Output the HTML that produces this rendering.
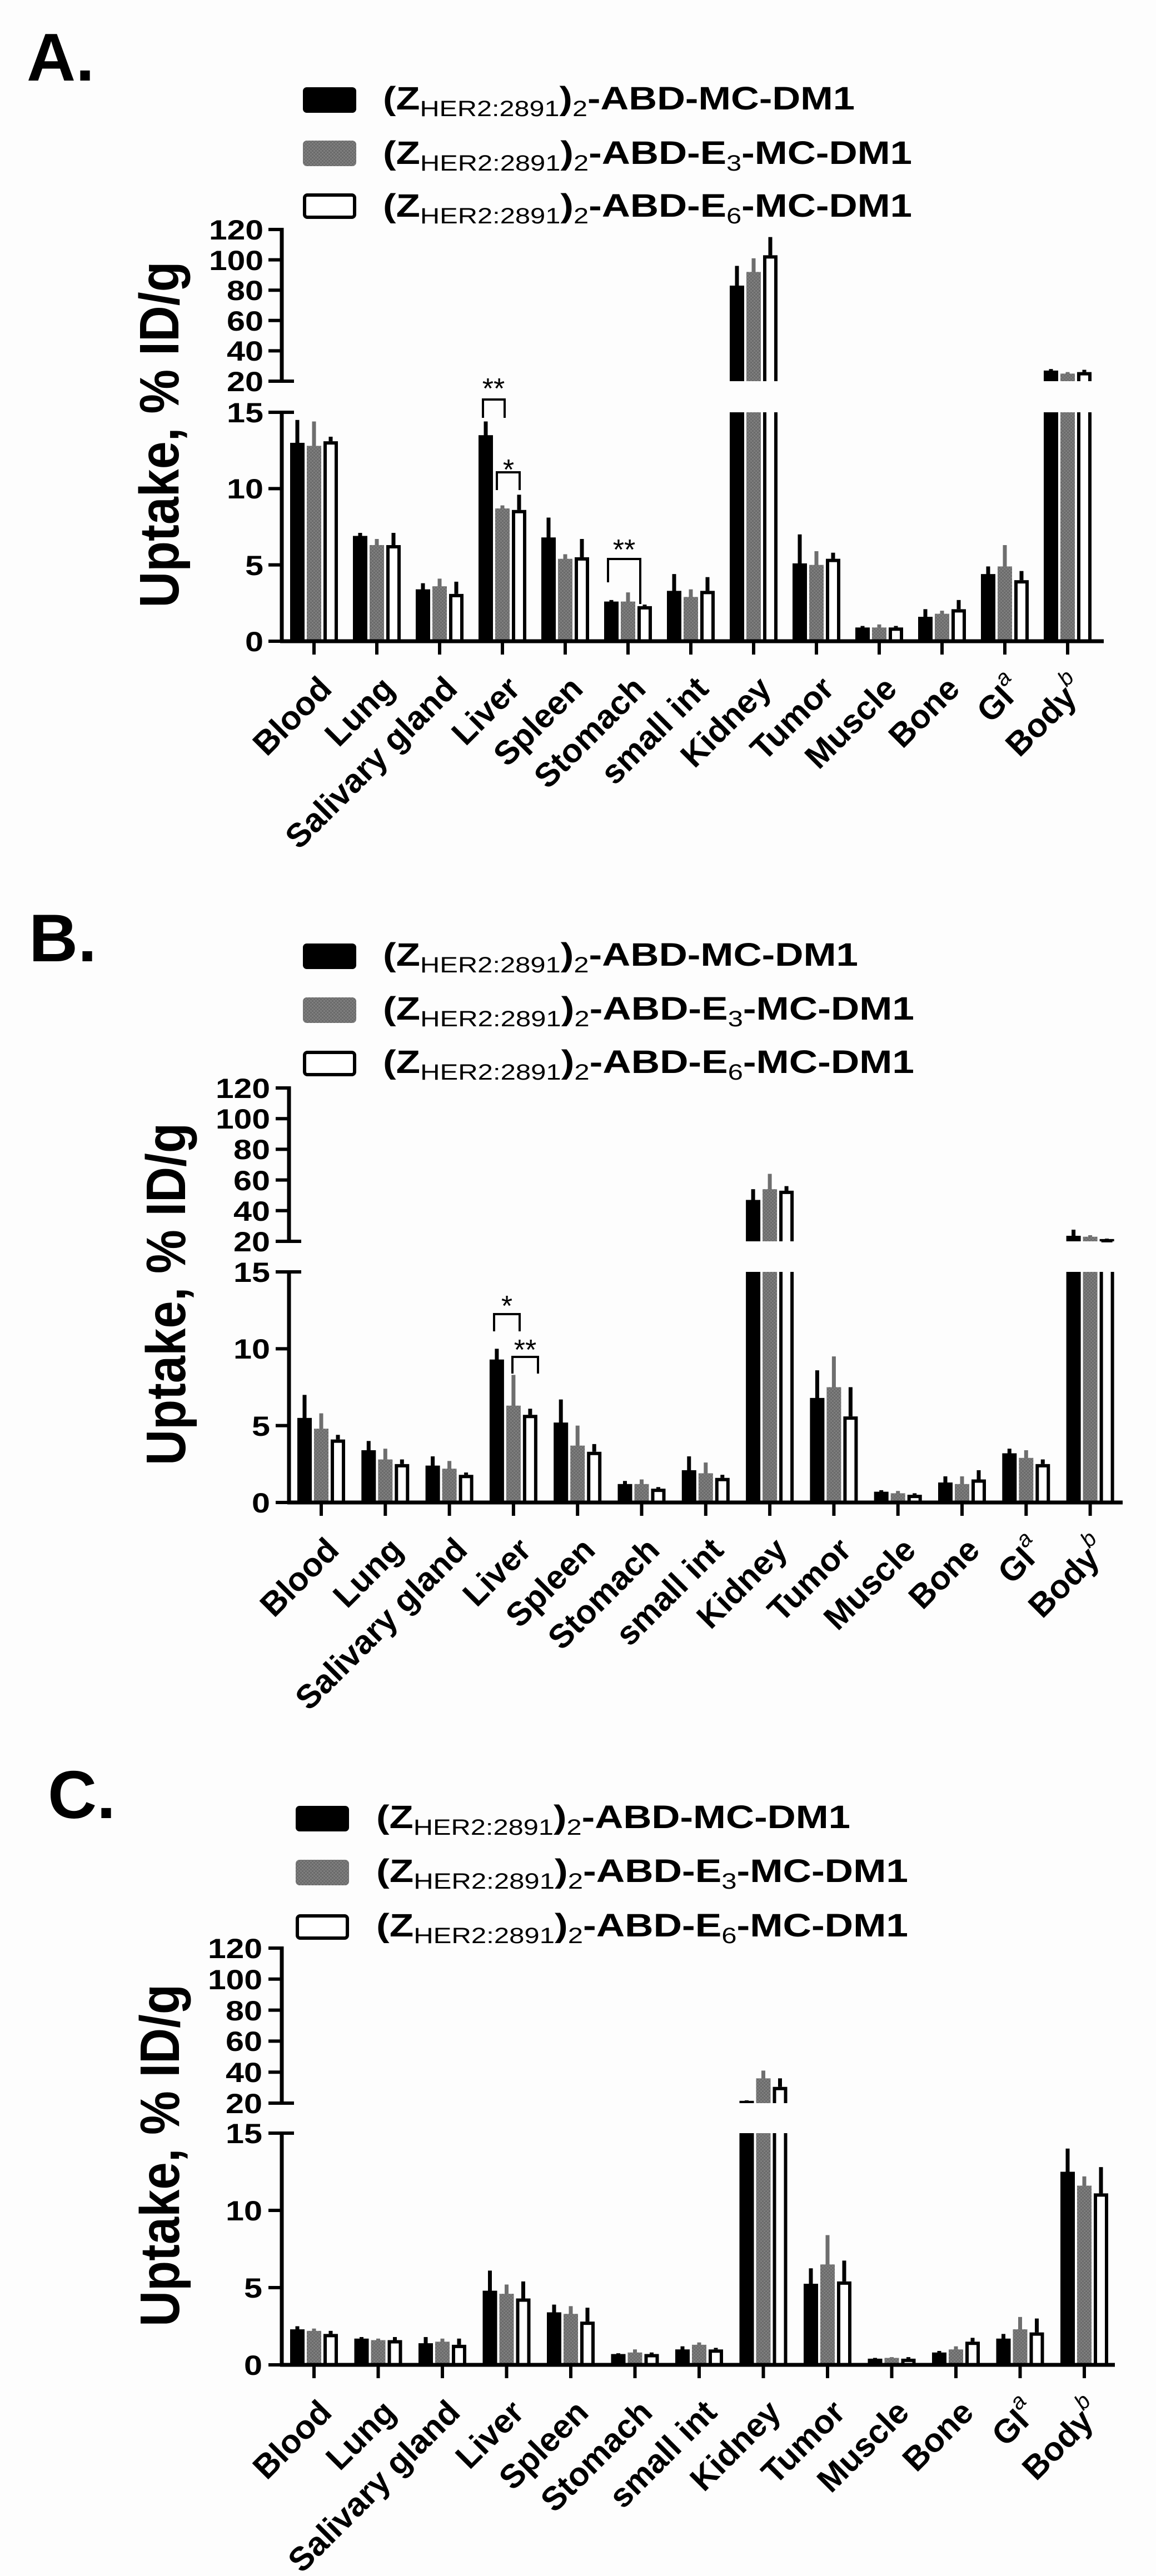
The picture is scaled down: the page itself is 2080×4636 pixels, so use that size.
<!DOCTYPE html>
<html><head><meta charset="utf-8"><style>
html,body{margin:0;padding:0;background:#fdfdfd;}
svg{display:block;}
text{font-family:"Liberation Sans",Arial,sans-serif;fill:#000;}
.lt{font-size:122px;font-weight:bold;}
.tk{font-size:50px;font-weight:bold;}
.yl{font-size:100px;font-weight:bold;}
.lg{font-size:58px;font-weight:bold;}
.sb{font-size:40px;font-weight:normal;}
.xl{font-size:60px;font-weight:bold;}
.st{font-size:52px;}
</style></head><body>
<svg id="s" width="2080" height="4636" viewBox="0 0 2080 4636" xmlns="http://www.w3.org/2000/svg">
<defs>
<pattern id="gp" width="6" height="6" patternUnits="userSpaceOnUse">
<rect width="6" height="6" fill="#6a6a6a"/><rect x="0" y="0" width="3" height="3" fill="#7e7e7e"/><rect x="3" y="3" width="3" height="3" fill="#7e7e7e"/>
</pattern>
</defs>
<rect width="2080" height="4636" fill="#fdfdfd"/>
<g id="bars"></g>

<!-- Panel A text -->
<text class="lt" x="48" y="145">A.</text>
<rect x="545" y="157" width="96" height="46" rx="7" fill="#000"/>
<rect x="545" y="253" width="96" height="46" rx="7" fill="url(#gp)"/>
<rect x="548" y="351" width="90" height="40" rx="5" fill="#fff" stroke="#000" stroke-width="6"/>
<text class="lg" x="689" y="197" textLength="849" lengthAdjust="spacingAndGlyphs">(Z<tspan class="sb" dy="12">HER2:2891</tspan><tspan dy="-12">)</tspan><tspan class="sb" dy="12">2</tspan><tspan dy="-12">-ABD-MC-DM1</tspan></text>
<text class="lg" x="689" y="295" textLength="952" lengthAdjust="spacingAndGlyphs">(Z<tspan class="sb" dy="12">HER2:2891</tspan><tspan dy="-12">)</tspan><tspan class="sb" dy="12">2</tspan><tspan dy="-12">-ABD-E</tspan><tspan class="sb" dy="12">3</tspan><tspan dy="-12">-MC-DM1</tspan></text>
<text class="lg" x="689" y="390" textLength="952" lengthAdjust="spacingAndGlyphs">(Z<tspan class="sb" dy="12">HER2:2891</tspan><tspan dy="-12">)</tspan><tspan class="sb" dy="12">2</tspan><tspan dy="-12">-ABD-E</tspan><tspan class="sb" dy="12">6</tspan><tspan dy="-12">-MC-DM1</tspan></text>
<g class="tk" text-anchor="end">
<text x="474" y="431" textLength="98" lengthAdjust="spacingAndGlyphs">120</text>
<text x="474" y="486" textLength="98" lengthAdjust="spacingAndGlyphs">100</text>
<text x="474" y="540" textLength="66" lengthAdjust="spacingAndGlyphs">80</text>
<text x="474" y="595" textLength="66" lengthAdjust="spacingAndGlyphs">60</text>
<text x="474" y="649" textLength="66" lengthAdjust="spacingAndGlyphs">40</text>
<text x="474" y="704" textLength="66" lengthAdjust="spacingAndGlyphs">20</text>
<text x="474" y="760" textLength="66" lengthAdjust="spacingAndGlyphs">15</text>
<text x="474" y="897" textLength="66" lengthAdjust="spacingAndGlyphs">10</text>
<text x="474" y="1035" textLength="33" lengthAdjust="spacingAndGlyphs">5</text>
<text x="474" y="1172" textLength="33" lengthAdjust="spacingAndGlyphs">0</text>
</g>
<text class="yl" text-anchor="middle" transform="translate(321,782) rotate(-90)" textLength="623" lengthAdjust="spacingAndGlyphs">Uptake, % ID/g</text>
<g class="xl" text-anchor="end">
<text transform="translate(600,1243) rotate(-45)">Blood</text>
<text transform="translate(713,1243) rotate(-45)">Lung</text>
<text transform="translate(826,1243) rotate(-45)">Salivary gland</text>
<text transform="translate(939,1243) rotate(-45)">Liver</text>
<text transform="translate(1052,1243) rotate(-45)">Spleen</text>
<text transform="translate(1165,1243) rotate(-45)">Stomach</text>
<text transform="translate(1278,1243) rotate(-45)">small int</text>
<text transform="translate(1391,1243) rotate(-45)">Kidney</text>
<text transform="translate(1504,1243) rotate(-45)">Tumor</text>
<text transform="translate(1617,1243) rotate(-45)">Muscle</text>
<text transform="translate(1730,1243) rotate(-45)">Bone</text>
<text transform="translate(1843,1243) rotate(-45)">GI<tspan font-style="italic" font-weight="normal" font-size="40" dy="-30">a</tspan></text>
<text transform="translate(1956,1243) rotate(-45)">Body<tspan font-style="italic" font-weight="normal" font-size="40" dy="-30">b</tspan></text>
</g>
<g fill="none" stroke="#000" stroke-width="4">
<path d="M869,752 V719 H908 V752"/>
<path d="M894,882 V850 H935 V882"/>
<path d="M1094,1048 V1006 H1152 V1087"/>
</g>
<g class="st" text-anchor="middle">
<text x="888" y="717">**</text>
<text x="915" y="863">*</text>
<text x="1123" y="1007">**</text>
</g>

<!-- Panel B text -->
<text class="lt" x="52" y="1730">B.</text>
<rect x="545" y="1698" width="96" height="46" rx="7" fill="#000"/>
<rect x="545" y="1795" width="96" height="46" rx="7" fill="url(#gp)"/>
<rect x="548" y="1894" width="90" height="40" rx="5" fill="#fff" stroke="#000" stroke-width="6"/>
<text class="lg" x="689" y="1738" textLength="855" lengthAdjust="spacingAndGlyphs">(Z<tspan class="sb" dy="12">HER2:2891</tspan><tspan dy="-12">)</tspan><tspan class="sb" dy="12">2</tspan><tspan dy="-12">-ABD-MC-DM1</tspan></text>
<text class="lg" x="689" y="1835" textLength="956" lengthAdjust="spacingAndGlyphs">(Z<tspan class="sb" dy="12">HER2:2891</tspan><tspan dy="-12">)</tspan><tspan class="sb" dy="12">2</tspan><tspan dy="-12">-ABD-E</tspan><tspan class="sb" dy="12">3</tspan><tspan dy="-12">-MC-DM1</tspan></text>
<text class="lg" x="689" y="1931" textLength="956" lengthAdjust="spacingAndGlyphs">(Z<tspan class="sb" dy="12">HER2:2891</tspan><tspan dy="-12">)</tspan><tspan class="sb" dy="12">2</tspan><tspan dy="-12">-ABD-E</tspan><tspan class="sb" dy="12">6</tspan><tspan dy="-12">-MC-DM1</tspan></text>
<g class="tk" text-anchor="end">
<text x="486" y="1976" textLength="98" lengthAdjust="spacingAndGlyphs">120</text>
<text x="486" y="2031" textLength="98" lengthAdjust="spacingAndGlyphs">100</text>
<text x="486" y="2086" textLength="66" lengthAdjust="spacingAndGlyphs">80</text>
<text x="486" y="2142" textLength="66" lengthAdjust="spacingAndGlyphs">60</text>
<text x="486" y="2197" textLength="66" lengthAdjust="spacingAndGlyphs">40</text>
<text x="486" y="2252" textLength="66" lengthAdjust="spacingAndGlyphs">20</text>
<text x="486" y="2307" textLength="66" lengthAdjust="spacingAndGlyphs">15</text>
<text x="486" y="2445" textLength="66" lengthAdjust="spacingAndGlyphs">10</text>
<text x="486" y="2584" textLength="33" lengthAdjust="spacingAndGlyphs">5</text>
<text x="486" y="2722" textLength="33" lengthAdjust="spacingAndGlyphs">0</text>
</g>
<text class="yl" text-anchor="middle" transform="translate(333,2329) rotate(-90)" textLength="616" lengthAdjust="spacingAndGlyphs">Uptake, % ID/g</text>
<g class="xl" text-anchor="end">
<text transform="translate(613,2793) rotate(-45)">Blood</text>
<text transform="translate(728,2793) rotate(-45)">Lung</text>
<text transform="translate(844,2793) rotate(-45)">Salivary gland</text>
<text transform="translate(959,2793) rotate(-45)">Liver</text>
<text transform="translate(1074,2793) rotate(-45)">Spleen</text>
<text transform="translate(1190,2793) rotate(-45)">Stomach</text>
<text transform="translate(1305,2793) rotate(-45)">small int</text>
<text transform="translate(1420,2793) rotate(-45)">Kidney</text>
<text transform="translate(1535,2793) rotate(-45)">Tumor</text>
<text transform="translate(1651,2793) rotate(-45)">Muscle</text>
<text transform="translate(1766,2793) rotate(-45)">Bone</text>
<text transform="translate(1881,2793) rotate(-45)">GI<tspan font-style="italic" font-weight="normal" font-size="40" dy="-30">a</tspan></text>
<text transform="translate(1997,2793) rotate(-45)">Body<tspan font-style="italic" font-weight="normal" font-size="40" dy="-30">b</tspan></text>
</g>
<g fill="none" stroke="#000" stroke-width="4">
<path d="M889,2396 V2365 H935 V2396"/>
<path d="M922,2472 V2442 H968 V2472"/>
</g>
<g class="st" text-anchor="middle">
<text x="912" y="2368">*</text>
<text x="945" y="2447">**</text>
</g>

<!-- Panel C text -->
<text class="lt" x="86" y="3272">C.</text>
<rect x="532" y="3250" width="96" height="46" rx="7" fill="#000"/>
<rect x="532" y="3347" width="96" height="46" rx="7" fill="url(#gp)"/>
<rect x="535" y="3448" width="90" height="40" rx="5" fill="#fff" stroke="#000" stroke-width="6"/>
<text class="lg" x="677" y="3290" textLength="853" lengthAdjust="spacingAndGlyphs">(Z<tspan class="sb" dy="12">HER2:2891</tspan><tspan dy="-12">)</tspan><tspan class="sb" dy="12">2</tspan><tspan dy="-12">-ABD-MC-DM1</tspan></text>
<text class="lg" x="677" y="3387" textLength="957" lengthAdjust="spacingAndGlyphs">(Z<tspan class="sb" dy="12">HER2:2891</tspan><tspan dy="-12">)</tspan><tspan class="sb" dy="12">2</tspan><tspan dy="-12">-ABD-E</tspan><tspan class="sb" dy="12">3</tspan><tspan dy="-12">-MC-DM1</tspan></text>
<text class="lg" x="677" y="3485" textLength="957" lengthAdjust="spacingAndGlyphs">(Z<tspan class="sb" dy="12">HER2:2891</tspan><tspan dy="-12">)</tspan><tspan class="sb" dy="12">2</tspan><tspan dy="-12">-ABD-E</tspan><tspan class="sb" dy="12">6</tspan><tspan dy="-12">-MC-DM1</tspan></text>
<g class="tk" text-anchor="end">
<text x="472" y="3524" textLength="98" lengthAdjust="spacingAndGlyphs">120</text>
<text x="472" y="3580" textLength="98" lengthAdjust="spacingAndGlyphs">100</text>
<text x="472" y="3636" textLength="66" lengthAdjust="spacingAndGlyphs">80</text>
<text x="472" y="3691" textLength="66" lengthAdjust="spacingAndGlyphs">60</text>
<text x="472" y="3747" textLength="66" lengthAdjust="spacingAndGlyphs">40</text>
<text x="472" y="3803" textLength="66" lengthAdjust="spacingAndGlyphs">20</text>
<text x="472" y="3857" textLength="66" lengthAdjust="spacingAndGlyphs">15</text>
<text x="472" y="3996" textLength="66" lengthAdjust="spacingAndGlyphs">10</text>
<text x="472" y="4135" textLength="33" lengthAdjust="spacingAndGlyphs">5</text>
<text x="472" y="4274" textLength="33" lengthAdjust="spacingAndGlyphs">0</text>
</g>
<text class="yl" text-anchor="middle" transform="translate(322,3879) rotate(-90)" textLength="616" lengthAdjust="spacingAndGlyphs">Uptake, % ID/g</text>
<g class="xl" text-anchor="end">
<text transform="translate(600,4345) rotate(-45)">Blood</text>
<text transform="translate(715,4345) rotate(-45)">Lung</text>
<text transform="translate(831,4345) rotate(-45)">Salivary gland</text>
<text transform="translate(946,4345) rotate(-45)">Liver</text>
<text transform="translate(1062,4345) rotate(-45)">Spleen</text>
<text transform="translate(1177,4345) rotate(-45)">Stomach</text>
<text transform="translate(1293,4345) rotate(-45)">small int</text>
<text transform="translate(1408,4345) rotate(-45)">Kidney</text>
<text transform="translate(1524,4345) rotate(-45)">Tumor</text>
<text transform="translate(1639,4345) rotate(-45)">Muscle</text>
<text transform="translate(1755,4345) rotate(-45)">Bone</text>
<text transform="translate(1870,4345) rotate(-45)">GI<tspan font-style="italic" font-weight="normal" font-size="40" dy="-30">a</tspan></text>
<text transform="translate(1986,4345) rotate(-45)">Body<tspan font-style="italic" font-weight="normal" font-size="40" dy="-30">b</tspan></text>
</g>
</svg>
<script>
(function(){
var NS="http://www.w3.org/2000/svg";
var g=document.getElementById("bars");
function el(t,a){var e=document.createElementNS(NS,t);for(var k in a)e.setAttribute(k,a[k]);g.appendChild(e);return e;}
var panels=[
{ax:507,x0:565,dx:113,u120:413,u20:686,l15:742,l0:1154,xe:1986,d:[
[[13.0,1.5],[12.8,1.6],[13.1,0.3]],[[6.9,0.2],[6.3,0.4],[6.3,0.8]],[[3.4,0.4],[3.6,0.5],[3.1,0.8]],
[[13.5,0.9],[8.7,0.2],[8.6,1.0]],[[6.8,1.3],[5.4,0.3],[5.5,1.2]],[[2.6,0.1],[2.6,0.6],[2.3,0.1]],
[[3.3,1.1],[2.9,0.5],[3.3,0.9]],[[83,13],[92,9],[103,12]],[[5.1,1.9],[5.0,0.9],[5.4,0.4]],
[[0.9,0.1],[0.9,0.2],[0.9,0.1]],[[1.6,0.5],[1.8,0.2],[2.1,0.6]],[[4.4,0.5],[4.9,1.4],[4.0,0.6]],
[[27,1],[25,1],[26,1.5]]]},
{ax:520,x0:578,dx:115.3,u120:1958,u20:2234,l15:2289,l0:2704,xe:2020,d:[
[[5.5,1.5],[4.8,1.0],[4.1,0.3]],[[3.4,0.6],[2.8,0.7],[2.5,0.3]],[[2.4,0.6],[2.2,0.5],[1.8,0.15]],
[[9.3,0.7],[6.3,2.0],[5.7,0.4]],[[5.2,1.5],[3.7,1.3],[3.3,0.5]],[[1.2,0.2],[1.2,0.3],[0.9,0.1]],
[[2.1,0.9],[1.9,0.7],[1.6,0.2]],[[47,7],[54,10],[53,3]],[[6.8,1.8],[7.5,2.0],[5.6,1.9]],
[[0.7,0.1],[0.6,0.15],[0.5,0.1]],[[1.3,0.4],[1.2,0.5],[1.5,0.6]],[[3.2,0.3],[2.9,0.5],[2.5,0.3]],
[[23.6,4],[23,1],[21.5,0.3]]]},
{ax:507,x0:565,dx:115.5,u120:3506,u20:3785,l15:3839,l0:4256,xe:2006,d:[
[[2.3,0.2],[2.2,0.15],[2.0,0.2]],[[1.7,0.1],[1.6,0.1],[1.6,0.2]],[[1.4,0.4],[1.5,0.2],[1.3,0.4]],
[[4.8,1.3],[4.6,0.6],[4.3,1.1]],[[3.4,0.5],[3.3,0.5],[2.8,0.9]],[[0.7,0.05],[0.8,0.2],[0.7,0.1]],
[[1.0,0.2],[1.3,0.15],[1.0,0.1]],[[21.5,0.3],[36,5],[30.5,5.5]],[[5.25,1.0],[6.5,1.9],[5.4,1.35]],
[[0.4,0.05],[0.45,0.05],[0.4,0.1]],[[0.8,0.1],[1.0,0.2],[1.5,0.25]],[[1.7,0.3],[2.3,0.8],[2.1,0.9]],
[[12.5,1.5],[11.6,0.6],[11.1,1.7]]]}
];
panels.forEach(function(p){
  function Y(v){ if(v<=15) return p.l0-v*(p.l0-p.l15)/15; if(v<20) return p.l15; return p.u20-(v-20)*(p.u20-p.u120)/100;}
  p.d.forEach(function(grp,i){
    var cx=p.x0+p.dx*i;
    var offs=[-43,-13,17];
    grp.forEach(function(ve,k){
      var v=ve[0],e=ve[1],x=cx+offs[k],w=26;
      var segs=[];
      if(v<=15){segs.push([Y(v),p.l0,true]);}
      else{segs.push([p.l15,p.l0,false]); if(v>20) segs.push([Y(v),p.u20,true]);}
      var top=Y(v), et=Y(v+e);
      var ec=(k==1)?"#6e6e6e":"#000";
      el("line",{x1:cx+offs[k]+13,x2:cx+offs[k]+13,y1:top+2,y2:et,stroke:ec,"stroke-width":7});
      segs.forEach(function(s){
        var y1=s[0],y2=s[1];
        if(k==0) el("rect",{x:x,y:y1,width:w,height:y2-y1,fill:"#000"});
        else if(k==1) el("rect",{x:x,y:y1,width:w,height:y2-y1,fill:"url(#gp)"});
        else{
          el("rect",{x:x,y:y1,width:w,height:y2-y1,fill:"#fff"});
          var d="M"+(x+3)+","+y2+" V"+(s[2]?y1+3:y1)+(s[2]?" H"+(x+w-3):" M"+(x+w-3)+","+y1)+" V"+y2;
          el("path",{d:d,fill:"none",stroke:"#000","stroke-width":6});
        }
      });
    });
    el("line",{x1:cx,x2:cx,y1:p.l0,y2:p.l0+24,stroke:"#000","stroke-width":6});
  });
  el("line",{x1:p.ax,x2:p.ax,y1:p.u120-3,y2:p.u20+3,stroke:"#000","stroke-width":7});
  el("line",{x1:p.ax,x2:p.ax,y1:p.l15-3,y2:p.l0+3,stroke:"#000","stroke-width":7});
  el("line",{x1:p.ax-3,x2:p.xe,y1:p.l0,y2:p.l0,stroke:"#000","stroke-width":7});
  [120,100,80,60,40,20].forEach(function(v){var y=Y(v);el("line",{x1:p.ax-24,x2:(v==20?p.ax+22:p.ax),y1:y,y2:y,stroke:"#000","stroke-width":6});});
  [15,10,5,0].forEach(function(v){var y=Y(v);el("line",{x1:p.ax-24,x2:(v==15?p.ax+22:p.ax),y1:y,y2:y,stroke:"#000","stroke-width":6});});
});
})();
</script>
</body></html>
